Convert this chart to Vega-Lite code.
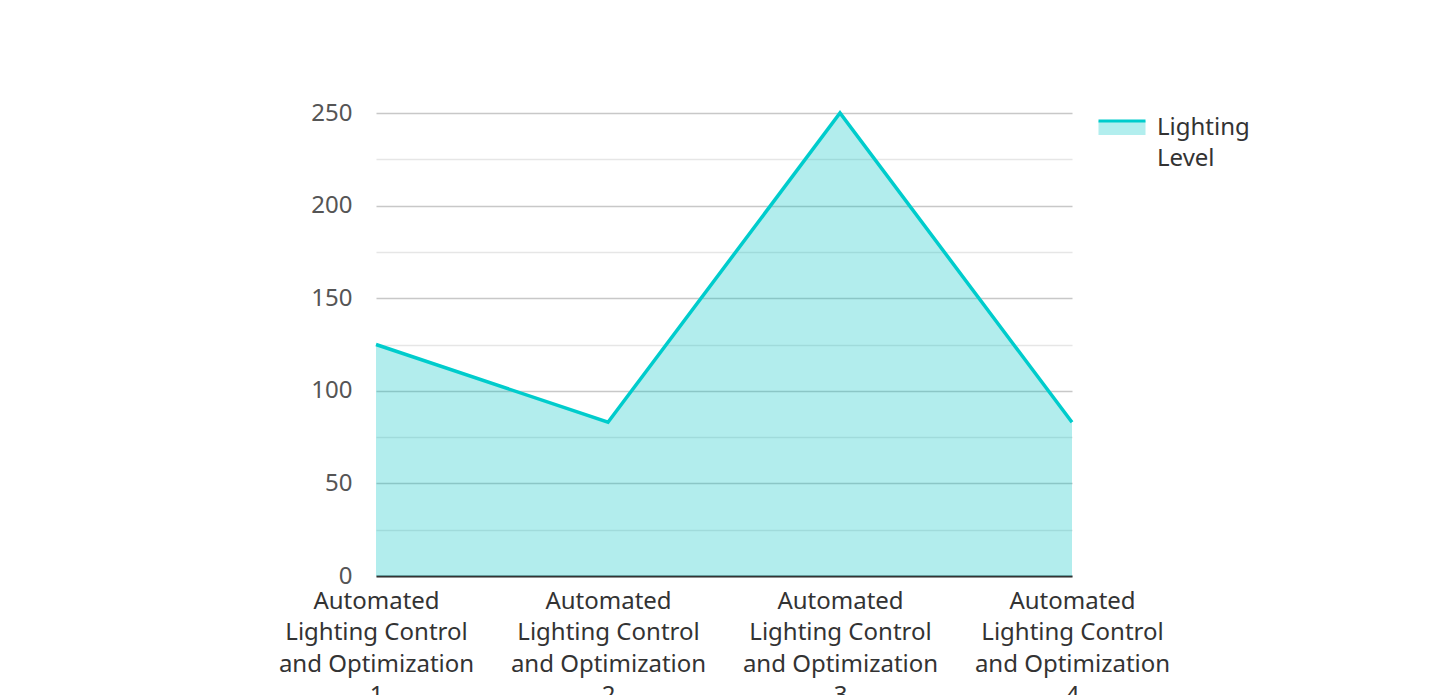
{
  "$schema": "https://vega.github.io/schema/vega-lite/v6.json",
  "autosize": "none",
  "width": 696,
  "height": 463,
  "padding": {"left": 376, "top": 113, "right": 373, "bottom": 119},
  "background": "#ffffff",
  "config": {
    "font": "Noto Sans",
    "view": {"stroke": null}
  },
  "data": {
    "values": [
      {"category": "Automated Lighting Control and Optimization 1", "series": "Lighting Level", "value": 125},
      {"category": "Automated Lighting Control and Optimization 2", "series": "Lighting Level", "value": 83},
      {"category": "Automated Lighting Control and Optimization 3", "series": "Lighting Level", "value": 250},
      {"category": "Automated Lighting Control and Optimization 4", "series": "Lighting Level", "value": 83}
    ]
  },
  "encoding": {
    "x": {
      "field": "category",
      "type": "ordinal",
      "scale": {"type": "point", "padding": 0},
      "sort": null,
      "axis": {
        "title": null,
        "labelAngle": 0,
        "labelAlign": "center",
        "labelBaseline": "top",
        "labelFontSize": 24,
        "labelColor": "#333333",
        "labelLineHeight": 31.5,
        "labelPadding": 13,
        "labelLimit": 0,
        "labelOverlap": false,
        "labelExpr": "['Automated', 'Lighting Control', 'and Optimization', substring(datum.label, 44)]",
        "ticks": false,
        "grid": false,
        "domain": true,
        "domainColor": "#333333",
        "domainWidth": 2
      }
    },
    "y": {
      "field": "value",
      "type": "quantitative",
      "scale": {"domain": [0, 250], "nice": false},
      "axis": {
        "title": null,
        "values": [0, 25, 50, 75, 100, 125, 150, 175, 200, 225, 250],
        "labelExpr": "datum.value % 50 == 0 ? datum.label : ''",
        "labelFontSize": 24,
        "labelColor": "#555555",
        "labelPadding": 24,
        "ticks": false,
        "domain": false,
        "grid": true,
        "gridColor": {"condition": {"test": "datum.value % 50 == 0", "value": "#c8c8c8"}, "value": "#e6e6e6"},
        "gridWidth": 1.5
      }
    }
  },
  "layer": [
    {
      "mark": {"type": "area", "color": "#00c4c4", "opacity": 0.3}
    },
    {
      "mark": {"type": "line", "strokeWidth": 3.5},
      "encoding": {
        "color": {
          "field": "series",
          "type": "nominal",
          "scale": {"range": ["#00cccc"]},
          "legend": {
            "title": null,
            "orient": "none",
            "legendX": 721,
            "legendY": -10,
            "padding": 0,
            "symbolType": "M-1,-0.3H1V0.3H-1Z",
            "symbolSize": 2209,
            "symbolFillColor": "#b2eeee",
            "symbolStrokeColor": "#00cccc",
            "symbolStrokeWidth": 3,
            "symbolDash": [47, 200],
            "symbolOpacity": 1,
            "labelFontSize": 24,
            "labelColor": "#333333",
            "labelOffset": 10,
            "labelExpr": "split(datum.label, ' ')",
            "encode": {
              "labels": {"update": {"lineHeight": {"value": 31}}},
              "symbols": {"update": {"fill": {"value": "#b2eeee"}, "stroke": {"value": "#00cccc"}}}
            }
          }
        }
      }
    }
  ]
}
